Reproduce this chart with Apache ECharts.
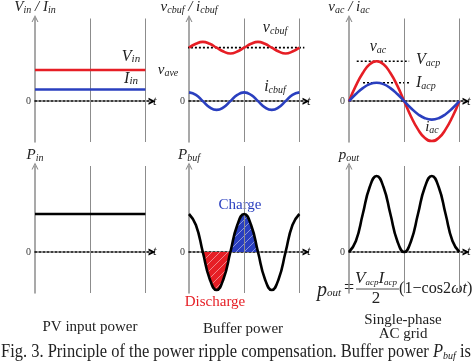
<!DOCTYPE html>
<html><head><meta charset="utf-8">
<script src="https://cdn.jsdelivr.net/npm/echarts@6/dist/echarts.min.js"></script>
<style>html,body{margin:0;padding:0;background:#fff}#c{width:474px;height:362px}</style>
</head><body><div id="c"></div>
<script>
// ---- data ----
var tStep = [0, 1];
var tFine = [0, 0.0625, 0.125, 0.1875, 0.25, 0.3125, 0.375, 0.4375, 0.5, 0.5625, 0.625, 0.6875, 0.75, 0.8125, 0.875, 0.9375, 1];
var vinValues = [32, 32];
var iinValues = [12, 12];
var vcbufValues = [55, 59, 61, 59, 55, 51, 49, 51, 55, 59, 61, 59, 55, 51, 49, 51, 55];
var vaveValue = 55;
var icbufValues = [9, 6.4, 0, -6.4, -9, -6.4, 0, 6.4, 9, 6.4, 0, -6.4, -9, -6.4, 0, 6.4, 9];
var vacValues = [0, 16, 29, 38, 41, 38, 29, 16, 0, -16, -29, -38, -41, -38, -29, -16, 0];
var iacValues = [0, 7.3, 13.4, 17.5, 19, 17.5, 13.4, 7.3, 0, -7.3, -13.4, -17.5, -19, -17.5, -13.4, -7.3, 0];
var vacpValue = 41, iacpValue = 19;
var vacpSpan = [0.07, 0.545], iacpSpan = [0.127, 0.56];
var pinValues = [38, 38];
var pbufValues = [38, 27, 0, -27, -38, -27, 0, 27, 38, 27, 0, -27, -38, -27, 0, 27, 38];
var poutValues = [0, 11, 38, 65, 76, 65, 38, 11, 0, 11, 38, 65, 76, 65, 38, 11, 0];
var dischargeRange = [2, 6];  // indices into tFine
var chargeRange = [6, 10];
var periodMarks = [0.5, 1];

var RED = '#e61e25', BLUE = '#2a3fbf', GREY = '#8c8c8c';
var SERIF = '"Liberation Serif", "DejaVu Serif", serif';

function zip(xs, ys) { return xs.map(function (x, i) { return [x, ys[i]]; }); }
function hatch(color) {
  var c = document.createElement('canvas'); c.width = 8; c.height = 8;
  var g = c.getContext('2d'); g.fillStyle = color; g.fillRect(0, 0, 8, 8);
  g.strokeStyle = 'rgba(255,255,255,0.45)'; g.lineWidth = 1;
  g.beginPath(); g.moveTo(0, 8); g.lineTo(8, 0); g.stroke();
  g.beginPath(); g.moveTo(-2, 2); g.lineTo(2, -2); g.stroke();
  g.beginPath(); g.moveTo(6, 10); g.lineTo(10, 6); g.stroke();
  return { image: c, repeat: 'repeat' };
}

var rich = {
  i: { fontFamily: SERIF, fontStyle: 'italic', fontSize: 15, lineHeight: 16, color: '#222' },
  s: { fontFamily: SERIF, fontStyle: 'italic', fontSize: 10, lineHeight: 16, verticalAlign: 'bottom', color: '#222' }
};
function richColor(col, big, small) {
  return {
    i: { fontFamily: SERIF, fontStyle: 'italic', fontSize: big || 15, lineHeight: 16, color: col },
    s: { fontFamily: SERIF, fontStyle: 'italic', fontSize: small || 10, lineHeight: 16, verticalAlign: 'bottom', color: col }
  };
}

var upArrowThin = 'path://M0,10 L5,0 L10,10 L8.4,10 L5,3.2 L1.6,10 Z';
var upArrowBold = 'path://M0,10 L5,0 L10,10 L7.2,10 L5,5.4 L2.8,10 Z';

var cols = [35, 189, 349];
var rows = [{ top: 15, min: -42, max: 85, iv: 42 }, { top: 166, min: -41, max: 86, iv: 41 }];
var yNames = [
  '{i|V}{s|in}{i| / I}{s|in}', '{i|v}{s|cbuf}{i| / i}{s|cbuf}', '{i|v}{s|ac}{i| / i}{s|ac}',
  '{i|P}{s|in}', '{i|P}{s|buf}', '{i|p}{s|out}'
];
var grids = [], xAxes = [], yAxes = [];
for (var r = 0; r < 2; r++) for (var c = 0; c < 3; c++) {
  var k = r * 3 + c;
  grids.push({ left: cols[c], top: rows[r].top, width: 117, height: 127 });
  xAxes.push({
    gridIndex: k, type: 'value', min: 0, max: 1.06,
    axisLine: { onZero: true, lineStyle: { color: '#000', width: 1.6, type: [2, 2] }, symbol: ['none', upArrowBold], symbolSize: [8, 7] },
    axisTick: { show: false }, axisLabel: { show: false }, splitLine: { show: false },
    name: 't', nameLocation: 'end', nameGap: 1,
    nameTextStyle: { fontFamily: SERIF, fontStyle: 'italic', fontSize: 13, color: '#222' }
  });
  yAxes.push({
    gridIndex: k, type: 'value', min: rows[r].min, max: rows[r].max, interval: rows[r].iv,
    axisLine: { lineStyle: { color: GREY, width: 1.5 }, symbol: ['none', upArrowThin], symbolSize: [7, 8] },
    axisTick: { show: false }, splitLine: { show: false },
    axisLabel: { margin: 4, fontFamily: SERIF, fontSize: 10, color: '#333', formatter: function (v) { return v === 0 ? '0' : ''; } },
    name: yNames[k], nameLocation: 'end', nameGap: 3,
    nameTextStyle: { rich: rich, align: 'center' }
  });
}

function curve(k, xs, ys, color, extra) {
  var s = {
    type: 'line', xAxisIndex: k, yAxisIndex: k, data: zip(xs, ys), showSymbol: false, symbol: 'none',
    smooth: 0.5, lineStyle: { color: color, width: 2.6 }, silent: true, z: 5, clip: false
  };
  for (var p in extra) s[p] = extra[p];
  return s;
}
function gridLines(k) {
  return {
    type: 'line', xAxisIndex: k, yAxisIndex: k, data: [], silent: true,
    markLine: { silent: true, symbol: 'none', label: { show: false },
      lineStyle: { color: GREY, width: 1, type: 'solid' },
      data: periodMarks.map(function (v) { return { xAxis: v }; }) }
  };
}
function dashed(k, span, val, extra) {
  return curve(k, span, [val, val], '#000', Object.assign({ smooth: false, lineStyle: { color: '#000', width: 1.6, type: [2, 2] }, z: 3 }, extra || {}));
}

var series = [];
for (var k = 0; k < 6; k++) series.push(gridLines(k));
series.push(curve(0, tStep, vinValues, RED, { smooth: false }));
series.push(curve(0, tStep, iinValues, BLUE, { smooth: false }));
series.push(dashed(1, [-0.055, 1.045], vaveValue));
series.push(curve(1, tFine, vcbufValues, RED));
series.push(curve(1, tFine, icbufValues, BLUE));
series.push(dashed(2, vacpSpan, vacpValue));
series.push(dashed(2, iacpSpan, iacpValue));
series.push(curve(2, tFine, vacValues, RED));
series.push(curve(2, tFine, iacValues, BLUE));
series.push(curve(3, tStep, pinValues, '#000', { smooth: false }));
series.push(curve(4, tFine.slice(dischargeRange[0], dischargeRange[1] + 1), pbufValues.slice(dischargeRange[0], dischargeRange[1] + 1), RED,
  { lineStyle: { width: 0, opacity: 0 }, areaStyle: { color: hatch(RED), opacity: 1 }, z: 2 }));
series.push(curve(4, tFine.slice(chargeRange[0], chargeRange[1] + 1), pbufValues.slice(chargeRange[0], chargeRange[1] + 1), BLUE,
  { lineStyle: { width: 0, opacity: 0 }, areaStyle: { color: hatch(BLUE), opacity: 1 }, z: 2 }));
series.push(curve(4, tFine, pbufValues, '#000'));
series.push(curve(5, tFine, poutValues, '#000'));

function txt(x, y, text, opt) {
  opt = opt || {};
  return {
    type: 'text', x: x, y: y, silent: true, scaleX: opt.scaleX || 1,
    style: {
      text: text, rich: opt.rich, fill: opt.color || '#222',
      font: opt.font || ('15px ' + SERIF),
      textAlign: opt.align || 'center', textVerticalAlign: 'middle', verticalAlign: 'middle'
    }
  };
}
var graphics = [
  txt(131, 57, '{i|V}{s|in}', { rich: richColor(RED, 16, 11) }),
  txt(131, 79, '{i|I}{s|in}', { rich: richColor(BLUE, 16, 11) }),
  txt(275, 28, '{i|v}{s|cbuf}', { rich: richColor(RED, 16, 10) }),
  txt(275, 87, '{i|i}{s|cbuf}', { rich: richColor(BLUE, 16, 10) }),
  txt(168, 70, '{i|v}{s|ave}', { rich: richColor('#222', 15, 10) }),
  txt(378, 47, '{i|v}{s|ac}', { rich: richColor(RED, 16, 10) }),
  txt(416, 60, '{i|V}{s|acp}', { rich: richColor('#222', 16, 10), align: 'left' }),
  txt(416, 83, '{i|I}{s|acp}', { rich: richColor('#222', 16, 10), align: 'left' }),
  txt(432, 127, '{i|i}{s|ac}', { rich: richColor(BLUE, 15, 10) }),
  txt(240, 205, 'Charge', { color: BLUE, font: '15px ' + SERIF }),
  txt(215, 302, 'Discharge', { color: RED, font: '15px ' + SERIF }),
  txt(90, 327, 'PV input power', { font: '15px ' + SERIF }),
  txt(243, 329, 'Buffer power', { font: '15px ' + SERIF }),
  txt(403, 320, 'Single-phase', { font: '15px ' + SERIF }),
  txt(403, 334, 'AC grid', { font: '15px ' + SERIF }),
  // formula
  txt(317, 291, '{i|p}{s|out}', { rich: richColor('#222', 20, 11), align: 'left' }),
  txt(344, 288, '=', { font: '18px ' + SERIF, align: 'left' }),
  txt(355, 279, '{i|V}{s|acp}{i|I}{s|acp}', { rich: richColor('#222', 17, 9), align: 'left' }),
  { type: 'line', silent: true, shape: { x1: 356, y1: 289, x2: 399, y2: 289 }, style: { stroke: '#222', lineWidth: 0.8 } },
  txt(376, 299, '2', { font: '17px ' + SERIF }),
  txt(399, 289, '{n|(1\u2212cos2}{w|\u03c9t}{n|)}', { align: 'left', scaleX: 0.95,
    rich: { n: { fontFamily: SERIF, fontSize: 17, color: '#222' },
            w: { fontFamily: SERIF, fontStyle: 'italic', fontSize: 17, color: '#222' } } }),
  // caption
  txt(1, 352, 'Fig. 3. Principle of the power ripple compensation. Buffer power {i|P}{s|buf} is',
    { align: 'left', font: '18px ' + SERIF, scaleX: 0.915,
      rich: { i: { fontFamily: SERIF, fontStyle: 'italic', fontSize: 18, lineHeight: 20, color: '#222' },
              s: { fontFamily: SERIF, fontStyle: 'italic', fontSize: 11, lineHeight: 20, verticalAlign: 'bottom', color: '#222' } } })
];

var chart = echarts.init(document.getElementById('c'), null, { renderer: 'canvas' });
chart.setOption({
  animation: false, backgroundColor: '#fff',
  grid: grids, xAxis: xAxes, yAxis: yAxes, series: series, graphic: graphics
});
</script></body></html>
